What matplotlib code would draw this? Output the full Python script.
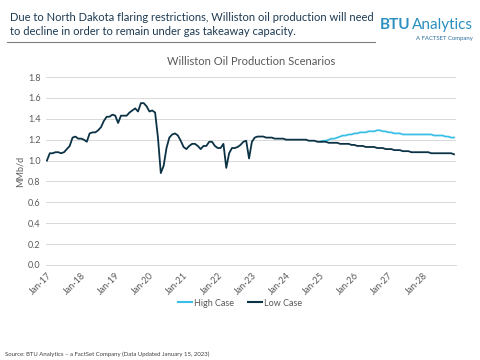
import numpy as np
import pandas as pd
import matplotlib
matplotlib.use('Agg')
import matplotlib.pyplot as plt
from matplotlib.lines import Line2D

plt.rcParams['font.family'] = ['Lato', 'DejaVu Sans']

# monthly production, MMb/d (Jan-17 .. Dec-28)
months = pd.date_range('2017-01-01', '2028-12-01', freq='MS')

low_case = [
    # 2017
    1.00, 1.07, 1.07, 1.08, 1.08, 1.07, 1.08, 1.11, 1.14, 1.22, 1.23, 1.21,
    # 2018
    1.21, 1.20, 1.18, 1.26, 1.27, 1.27, 1.29, 1.32, 1.38, 1.42, 1.42, 1.44,
    # 2019
    1.43, 1.36, 1.43, 1.43, 1.43, 1.46, 1.48, 1.50, 1.47, 1.55, 1.55, 1.52,
    # 2020
    1.47, 1.48, 1.46, 1.22, 0.88, 0.95, 1.12, 1.22, 1.25, 1.26, 1.24, 1.19,
    # 2021
    1.13, 1.11, 1.14, 1.16, 1.16, 1.14, 1.11, 1.14, 1.14, 1.18, 1.18, 1.14,
    # 2022
    1.12, 1.12, 1.16, 0.93, 1.07, 1.12, 1.12, 1.13, 1.15, 1.18, 1.19, 1.02,
    # 2023
    1.18, 1.22, 1.23, 1.23, 1.23, 1.22, 1.22, 1.22, 1.21, 1.21, 1.21, 1.21,
    # 2024
    1.20, 1.20, 1.20, 1.20, 1.20, 1.20, 1.20, 1.20, 1.19, 1.19, 1.19, 1.18,
    # 2025
    1.18, 1.18, 1.18, 1.17, 1.17, 1.17, 1.17, 1.16, 1.16, 1.16, 1.16, 1.15,
    # 2026
    1.15, 1.14, 1.14, 1.14, 1.13, 1.13, 1.13, 1.13, 1.12, 1.12, 1.12, 1.11,
    # 2027
    1.11, 1.11, 1.10, 1.10, 1.10, 1.09, 1.09, 1.09, 1.08, 1.08, 1.08, 1.08,
    # 2028
    1.08, 1.08, 1.08, 1.07, 1.07, 1.07, 1.07, 1.07, 1.07, 1.07, 1.07, 1.06,
]

# high case splits off from Jan-25
high_start = '2025-01-01'
high_case = [
    1.18, 1.19, 1.19, 1.20, 1.21, 1.21, 1.22, 1.23, 1.24, 1.24, 1.25, 1.25,
    1.26, 1.26, 1.27, 1.27, 1.27, 1.28, 1.28, 1.28, 1.29, 1.29, 1.28, 1.28,
    1.27, 1.27, 1.26, 1.26, 1.26, 1.25, 1.25, 1.25, 1.25, 1.25, 1.25, 1.25,
    1.25, 1.25, 1.25, 1.25, 1.24, 1.24, 1.24, 1.24, 1.23, 1.23, 1.22, 1.22,
]

title = ('Due to North Dakota flaring restrictions, Williston oil production will need\n'
         'to decline in order to remain under gas takeaway capacity.')
chart_title = 'Williston Oil Production Scenarios'
source = 'Source: BTU Analytics \u2013 a FactSet Company (Data Updated January 15, 2023)'

high_color = '#3cbfe6'
low_color = '#0c3245'
gray = '#595959'

x_all = np.arange(len(months))
x_high = np.arange(len(high_case)) + months.get_loc(pd.Timestamp(high_start))

fig = plt.figure(figsize=(4.8, 3.6), dpi=100)
ax = fig.add_axes([0.096, 0.264, 0.854, 0.522])

ax.plot(x_high, high_case, color=high_color, lw=1.3)
ax.plot(x_all, low_case, color=low_color, lw=1.3)

ax.set_ylim(0, 1.8)
ax.set_yticks(np.arange(0, 1.81, 0.2))
ax.set_yticklabels([f'{v:.1f}' for v in np.arange(0, 1.81, 0.2)])
ax.set_xlim(-0.3, len(months) - 0.3)

jan_idx = [i for i, d in enumerate(months) if d.month == 1]
ax.set_xticks(jan_idx)
ax.set_xticklabels([months[i].strftime('Jan-%y') for i in jan_idx],
                   rotation=45, ha='right', rotation_mode='anchor')

ax.grid(axis='y', color='#d9d9d9', lw=0.7)
ax.set_axisbelow(True)
for s in ax.spines.values():
    s.set_visible(False)
ax.spines['bottom'].set_visible(True)
ax.spines['bottom'].set_color('#d9d9d9')
ax.spines['bottom'].set_linewidth(0.7)
ax.tick_params(length=0, labelsize=6.5, colors=gray, pad=4)
ax.set_ylabel('MMb/d', fontsize=6.5, color=gray, labelpad=2)
ax.set_title(chart_title, fontsize=8, color=gray, pad=9)

handles = [Line2D([], [], color=high_color, lw=1.5),
           Line2D([], [], color=low_color, lw=1.5)]
fig.legend(handles, ['High Case', 'Low Case'], loc='center', ncol=2,
           bbox_to_anchor=(0.5, 0.158), frameon=False, fontsize=6.5,
           labelcolor=gray, handlelength=1.6, handletextpad=0.2,
           columnspacing=1.5)

# header
fig.text(0.021, 0.932, title, fontsize=8.0, color='#1d3a52', va='center',
         linespacing=1.3)
fig.add_artist(Line2D([0.015, 0.782], [0.883, 0.883], color='#7f7f7f', lw=0.8))
fig.text(0.792, 0.93, 'BTU', fontsize=11, color='#2b8fbf', ha='left',
         va='center', fontweight='bold')
fig.text(0.986, 0.93, 'Analytics', fontsize=11, color='#2b8fbf',
         ha='right', va='center')
fig.text(0.986, 0.893, 'A FACTSET Company', fontsize=4.3, color='#2b6f9f',
         ha='right', va='center')

fig.text(0.01, 0.017, source, fontsize=4.3, color='#404040', va='center')

fig.savefig('out.png', dpi=100)
